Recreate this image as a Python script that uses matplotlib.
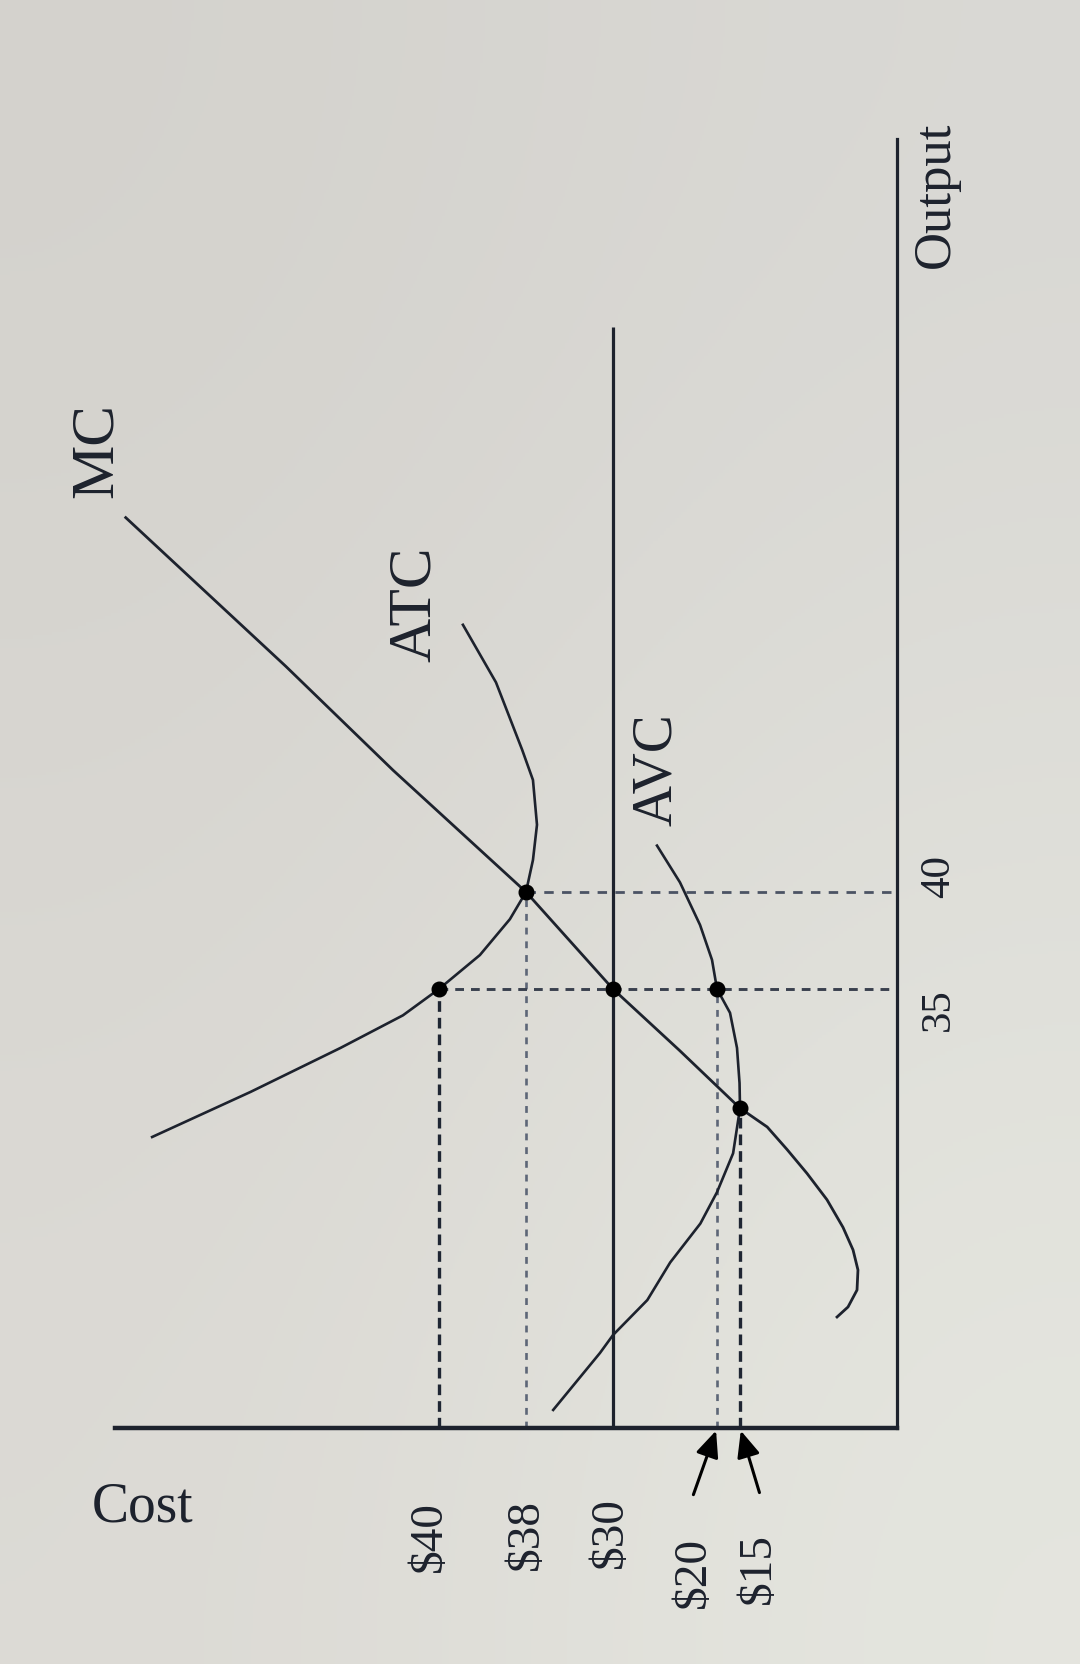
import numpy as np
import matplotlib
matplotlib.use('Agg')
import matplotlib.pyplot as plt

mc_q = [8.85, 9.65, 11.0, 12.6, 14.2, 16.0, 18.2, 20.3, 22.2, 24.0, 25.5, 30.1, 35, 40, 47.6, 54.1, 63.4]
mc_c = [5.73, 4.68, 3.82, 3.73, 4.20, 5.16, 6.69, 8.60, 10.5, 12.4, 15, 23.6, 30, 38, 42.6, 48.7, 57.8]

atc_q = [23.2, 26.8, 30.3, 32.9, 35, 36.75, 38.6, 40, 42.0, 44.2, 47.0, 48.9, 53.1, 56.7]
atc_c = [56.3, 50.7, 45.6, 42.05, 40, 39.06, 38.37, 38, 37.36, 36.99, 37.36, 38.09, 38.69, 39.45]

avc_q = [1.44, 5.98, 7.41, 10.2, 13.2, 16.3, 18.8, 21.9, 25.5, 27.5, 30.3, 33.1, 35, 36.5, 38.3, 40.6, 42.9]
avc_c = [35.5, 31.2, 30.0, 26.7, 24.5, 21.6, 20.0, 16.5, 15, 15.1, 15.65, 17.17, 20, 20.48, 21.63, 23.56, 25.77]

price = 30
price_top_q = 75.3

dot_q = [35, 40, 35, 35, 25.5]
dot_c = [40, 38, 30, 20, 15]

cost_levels = [40, 38, 30, 20, 15]
cost_labels = ['$40', '$38', '$30', '$20', '$15']
output_levels = [35, 40]
output_labels = ['35', '40']

# the drawing is not to scale: piecewise axis spacing (pixels from origin)
cost_knots = [0, 15, 20, 30, 38, 40, 60]
cost_space = [0, 157, 180, 284, 371, 458, 810]
out_knots = [0, 35, 40, 90]
out_space = [0, 439, 536, 1336]


def warp(vals, pos):
    vals = np.asarray(vals, float)
    pos = np.asarray(pos, float)

    def _map(v, a, b):
        v = np.asarray(v, float)
        out = np.interp(v, a, b)
        lo = (b[1] - b[0]) / (a[1] - a[0])
        hi = (b[-1] - b[-2]) / (a[-1] - a[-2])
        out = np.where(v < a[0], b[0] + (v - a[0]) * lo, out)
        out = np.where(v > a[-1], b[-1] + (v - a[-1]) * hi, out)
        return out

    return (lambda v: _map(v, vals, pos)), (lambda p: _map(p, pos, vals))


INK = '#1d222d'
plt.rcParams['font.family'] = ['Liberation Serif', 'DejaVu Serif']

W, H = 1080, 1664
fig = plt.figure(figsize=(W / 100, H / 100), dpi=100)

# photo-like paper background
bg = fig.add_axes([0, 0, 1, 1])
grad = np.array([[[212, 210, 205], [217, 216, 212]],
                 [[220, 218, 213], [229, 230, 223]]]) / 255
bg.imshow(grad, extent=[0, 1, 0, 1], aspect='auto', interpolation='bicubic')
bg.axis('off')

# plot box: left 115, right 897, top 139, bottom 1428 (pixels)
ax = fig.add_axes([115 / W, (H - 1428) / H, 782 / W, 1289 / H])
ax.patch.set_alpha(0)
cf, ci = warp(cost_knots, cost_space)
of, oi = warp(out_knots, out_space)
ax.set_xscale('function', functions=(cf, ci))
ax.set_yscale('function', functions=(of, oi))
ax.set_xlim(float(ci(782)), 0)
ax.set_ylim(0, float(oi(1289)))

for s in ['left', 'top']:
    ax.spines[s].set_visible(False)
ax.spines['right'].set_linewidth(2.3)
ax.spines['bottom'].set_linewidth(3.2)
ax.spines['right'].set_color(INK)
ax.spines['bottom'].set_color(INK)
ax.set_xticks([])
ax.set_yticks([])
ax.minorticks_off()

# dashed guide lines
dark = dict(color='#1f2633', lw=2.4, dashes=(3.2, 1.8))
light = dict(color='#5d6677', lw=1.9, dashes=(2.6, 2.6))
ax.plot([40, 40], [0, 35], **dark)
ax.plot([38, 38], [0, 40], **light)
ax.plot([20, 20], [0, 35], **light)
ax.plot([15, 15], [0, 25.5], **dark)
ax.plot([40, 0], [35, 35], color='#39404e', lw=2.1, dashes=(3.0, 2.4))
ax.plot([38, 0], [40, 40], color='#4b5364', lw=2.0, dashes=(3.4, 3.0))

# price line and cost curves
ax.plot([price, price], [0, price_top_q], color=INK, lw=2.3, solid_capstyle='butt')
ax.plot(mc_c, mc_q, color=INK, lw=2.0)
ax.plot(atc_c, atc_q, color=INK, lw=1.9)
ax.plot(avc_c, avc_q, color=INK, lw=1.9)
ax.plot(dot_c, dot_q, 'o', color='black', ms=10.5, zorder=5)

# cost labels under the axis
txt = dict(color=INK, ha='center', va='center', textcoords='offset points',
           annotation_clip=False)
label_off = [(-6.5, -78), (0.5, -77), (-2, -75), (-16.5, -104), (13.5, -101)]
for c, lab, off in zip(cost_levels, cost_labels, label_off):
    ax.annotate(lab, xy=(c, 0), xytext=off, rotation=90, fontsize=34, **txt)

arrow_tail = [(-17, -48), (14, -46.5)]
for c, off in zip(cost_levels[3:], arrow_tail):
    ax.annotate('', xy=(c, 0), xytext=off, textcoords='offset points',
                annotation_clip=False,
                arrowprops=dict(arrowstyle='-|>,head_length=0.8,head_width=0.35',
                                mutation_scale=20, color='black', lw=2.2,
                                shrinkA=0, shrinkB=2))

# output labels next to the output axis
out_off = [(30, -15), (30, 11.5)]
for q, lab, off in zip(output_levels, output_labels, out_off):
    ax.annotate(lab, xy=(0, q), xytext=off, rotation=90, fontsize=31, **txt)

# curve names and axis titles
ax.annotate('MC', xy=(mc_c[-1], mc_q[-1]), xytext=(-21, 48), rotation=90, fontsize=44, **txt)
ax.annotate('ATC', xy=(atc_c[-1], atc_q[-1]), xytext=(-34.5, 15), rotation=90, fontsize=44, **txt)
ax.annotate('AVC', xy=(avc_c[-1], avc_q[-1]), xytext=(0, 55), rotation=90, fontsize=41, **txt)
ax.annotate('Output', xy=(0, ax.get_ylim()[1]), xytext=(28, -40), rotation=90, fontsize=38, **txt)
ax.annotate('Cost', xy=(ax.get_xlim()[0], 0), xytext=(19.5, -57), fontsize=40, **txt)

fig.savefig('out.png', dpi=100)
